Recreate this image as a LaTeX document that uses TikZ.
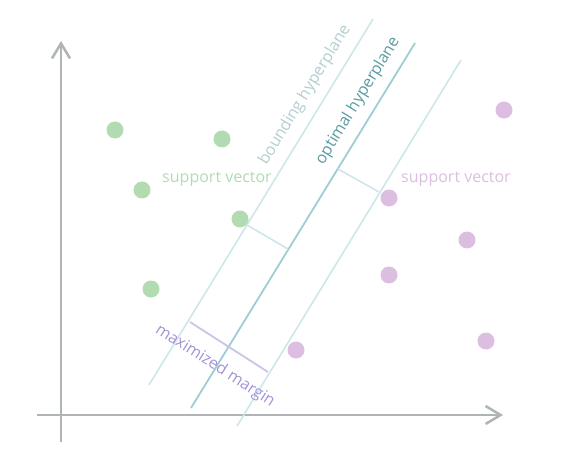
\documentclass[tikz,border=0pt]{standalone}
\usepackage{fontspec}
\setmainfont{Open Sans}
\usetikzlibrary{arrows.meta}
\definecolor{gdot}{HTML}{B2DBB2}
\definecolor{gtext}{HTML}{B2DBB2}
\definecolor{pdot}{HTML}{DCBEE0}
\definecolor{ptext}{HTML}{DBBEE0}
\definecolor{bline}{HTML}{CDE6EA}
\definecolor{oline}{HTML}{9FCDD4}
\definecolor{btext}{HTML}{B3CDD1}
\definecolor{otext}{HTML}{5A9AA2}
\definecolor{mline}{HTML}{CBC3EA}
\definecolor{mtext}{HTML}{A393D9}
\definecolor{axisc}{HTML}{AFB4B4}
\tikzset{
  axisline/.style={draw=axisc, line width=2.5bp, -{Straight Barb[length=15bp,width=18bp,line width=2.5bp]}},
  gpt/.style={circle, fill=gdot, minimum size=17bp, inner sep=0pt},
  ppt/.style={circle, fill=pdot, minimum size=17bp, inner sep=0pt},
  boundline/.style={draw=bline, line width=1.6bp},
  optline/.style={draw=oline, line width=1.8bp},
  perpline/.style={draw=bline, line width=1.6bp},
  marginline/.style={draw=mline, line width=1.8bp},
  lbl/.style={font=\fontsize{16bp}{18bp}\selectfont, inner sep=0pt}
}
\begin{document}
\begin{tikzpicture}[x=1bp,y=-1bp]
\useasboundingbox (0,0) rectangle (575,471);
% axes
\coordinate (xs) at (37,415); \coordinate (xe) at (503,415);
\coordinate (ys) at (61,442); \coordinate (ye) at (61,41);
\draw[axisline] (xs) -- (xe);
\draw[axisline] (ys) -- (ye);
% hyperplanes
\coordinate (b1s) at (149,385); \coordinate (b1e) at (373,19);
\coordinate (os) at (191,408); \coordinate (oe) at (415,43);
\coordinate (b2s) at (237,426); \coordinate (b2e) at (461,60);
\draw[boundline] (b1s) -- (b1e);
\draw[optline] (os) -- (oe);
\draw[boundline] (b2s) -- (b2e);
% perpendicular segments
\coordinate (p1a) at (338,169); \coordinate (p1b) at (379,192);
\coordinate (p2a) at (247,225); \coordinate (p2b) at (288,249);
\draw[perpline] (p1a) -- (p1b);
\draw[perpline] (p2a) -- (p2b);
% margin
\coordinate (ma) at (190,322); \coordinate (mb) at (268,372);
\draw[marginline] (ma) -- (mb);
% points
\node[gpt] (g1) at (115,130) {};
\node[gpt] (g2) at (222,139) {};
\node[gpt] (g3) at (142,190) {};
\node[gpt] (g4) at (240,219) {};
\node[gpt] (g5) at (151,289) {};
\node[ppt] (q1) at (504,110) {};
\node[ppt] (q2) at (389,198) {};
\node[ppt] (q3) at (467,240) {};
\node[ppt] (q4) at (389,275) {};
\node[ppt] (q5) at (486,341) {};
\node[ppt] (q6) at (296,350) {};
% labels
\node[lbl, text=gtext] (gl) at (217,179) {support vector};
\node[lbl, text=ptext] (pl) at (456,179) {support vector};
\node[lbl, text=btext, rotate=58.5] (bl) at (305,95) {bounding hyperplane};
\node[lbl, text=otext, rotate=58.5] (ol) at (358,101) {optimal hyperplane};
\node[lbl, text=mtext, rotate=-32.7] (ml) at (215,366) {maximized margin};
\end{tikzpicture}
\end{document}
